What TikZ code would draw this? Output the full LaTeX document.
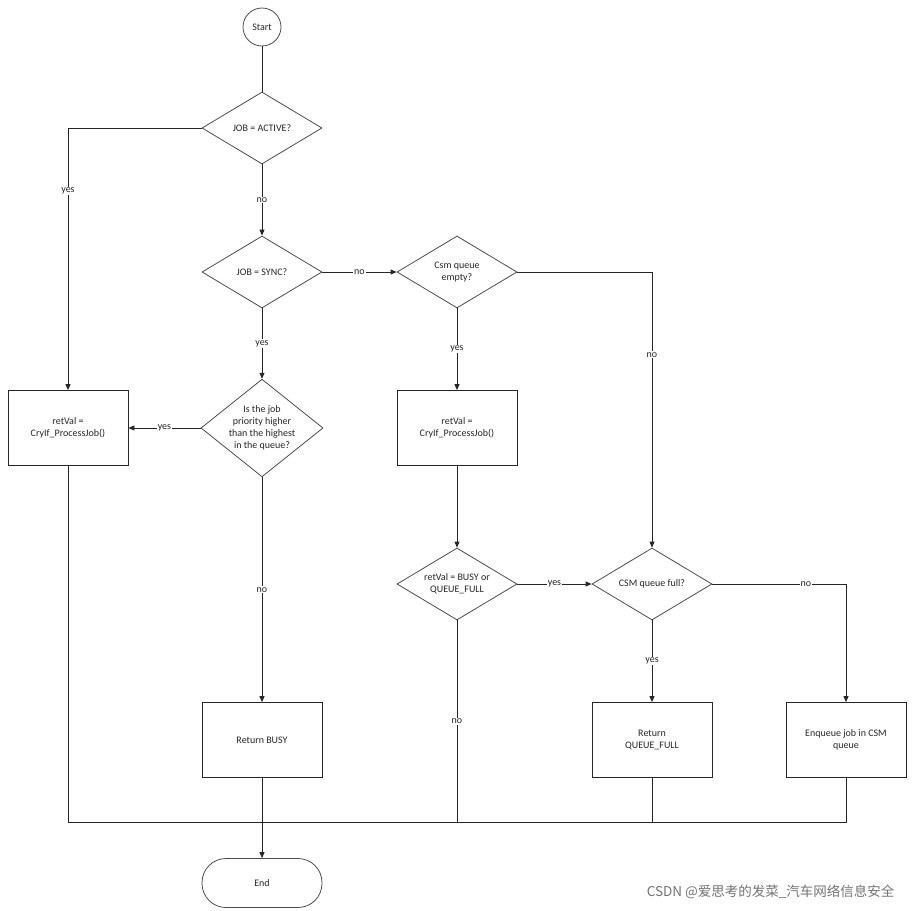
\documentclass[tikz,border=0pt]{standalone}
\usepackage{fontspec}
\setmainfont{Carlito}
\newfontfamily\cjk{Noto Sans CJK SC}
\usetikzlibrary{shapes.geometric,arrows.meta}
\begin{document}
\begin{tikzpicture}[x=1pt,y=-1pt,
  every node/.style={font=\fontsize{10}{12}\selectfont, text=black!85},
  dec/.style={diamond, draw=black!70, line width=0.8pt, aspect=1.67, minimum width=120pt, minimum height=72pt, inner sep=0pt, align=center},
  box/.style={rectangle, draw=black!85, line width=0.8pt, minimum width=120pt, minimum height=75pt, align=center},
  ln/.style={draw=black!85, line width=0.8pt},
  ar/.style={ln, -{Triangle[length=6pt,width=5pt]}},
  lab/.style={fill=white, inner sep=1pt}]
\path[use as bounding box] (0,0) rectangle (911,911);
\node[circle, draw=black!70, line width=0.8pt, minimum size=38pt, inner sep=0pt] (start) at (262,27) {Start};
\node[dec] (d1) at (262,128) {JOB = ACTIVE?};
\node[dec] (d2) at (262,272) {JOB = SYNC?};
\node[dec] (d3) at (457,272) {Csm queue\\empty?};
\node[dec, minimum height=96pt, aspect=1.25] (d4) at (262,428) {Is the job\\priority higher\\than the highest\\in the queue?};
\node[dec] (d5) at (457,584) {retVal = BUSY or\\QUEUE\_FULL};
\node[dec] (d6) at (652,584) {CSM queue full?};
\node[box] (b1) at (68,428) {retVal =\\CryIf\_ProcessJob()};
\node[box] (b2) at (457,428) {retVal =\\CryIf\_ProcessJob()};
\node[box] (rb) at (262,740) {Return BUSY};
\node[box] (rq) at (652,740) {Return\\QUEUE\_FULL};
\node[box] (eq) at (846,740) {Enqueue job in CSM\\queue};
\node[rectangle, rounded corners=24pt, draw=black!70, line width=0.8pt, minimum width=120pt, minimum height=49pt] (end) at (262,883) {End};
\coordinate (bl) at (68,822);
\coordinate (br) at (846,822);
\coordinate (m5) at (457,822);
\coordinate (mq) at (652,822);
\coordinate (mb) at (262,822);

\draw[ln] (start) -- (d1);
\draw[ar] (d1.west) -| node[lab, pos=0.62] {yes} (b1.north);
\draw[ar] (d1.south) -- node[lab] {no} (d2.north);
\draw[ar] (d2.east) -- node[lab] {no} (d3.west);
\draw[ar] (d2.south) -- node[lab] {yes} (d4.north);
\draw[ar] (d4.west) -- node[lab] {yes} (b1.east);
\draw[ar] (d4.south) -- node[lab] {no} (rb.north);
\draw[ar] (d3.south) -- node[lab] {yes} (b2.north);
\draw[ar] (d3.east) -| node[lab, pos=0.65] {no} (d6.north);
\draw[ar] (b2.south) -- (d5.north);
\draw[ar] (d5.east) -- node[lab] {yes} (d6.west);
\draw[ar] (d6.east) -| node[lab, pos=0.35] {no} (eq.north);
\draw[ar] (d6.south) -- node[lab] {yes} (rq.north);
\draw[ln] (d5.south) -- node[lab] {no} (m5);
\draw[ln] (b1.south) -- (bl) -- (br) -- (eq.south);
\draw[ln] (rq.south) -- (mq);
\draw[ar] (rb.south) -- (end.north);
\node[anchor=east, font=\cjk\fontsize{13.5}{15}\selectfont, text=black!55] (wm) at (898,892) {CSDN @爱思考的发菜\_汽车网络信息安全};
\end{tikzpicture}
\end{document}
